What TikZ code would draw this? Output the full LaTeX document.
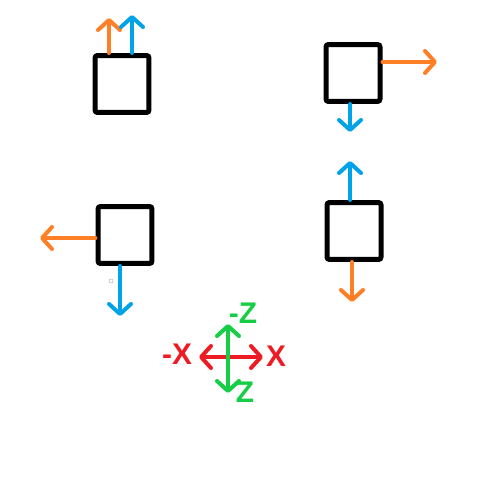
\documentclass[tikz,border=0pt]{standalone}
\usepackage{fontspec}
\setmainfont{Liberation Sans}
\usetikzlibrary{arrows.meta}
\definecolor{penorange}{RGB}{255,127,39}
\definecolor{penblue}{RGB}{0,162,232}
\definecolor{penred}{RGB}{237,28,36}
\definecolor{pengreen}{RGB}{22,205,70}
\begin{document}
\begin{tikzpicture}[
		x=0.02cm, y=-0.02cm,
		box/.style={
			draw,
			line width=0.1cm,
			rounded corners=0.5mm,
			minimum width=1.08cm,
			minimum height=1.14cm
		},
		pen/.style={
			line width=0.08cm,
			line cap=round,
			-{Straight Barb[length=2mm,width=4.4mm,round]}
		},
		label/.style={font=\bfseries\fontsize{17}{17}\selectfont}
	]
		\useasboundingbox (0,0) rectangle (500,500);
		
		\node[box] (B1) at (122,84) {};
		\node[box] (B2) at (353,73) {};
		\node[box] (B3) at (125,235) {};
		\node[box] (B4) at (354,231) {};
		
		\coordinate (B1o) at (109,18);
		\coordinate (B1b) at (132,15);
		\coordinate (B2o) at (437,62);
		\coordinate (B2b) at (350,132);
		\coordinate (B3o) at (40,238);
		\coordinate (B3b) at (120,316);
		\coordinate (B4b) at (350,161);
		\coordinate (B4o) at (352,302);
		
		\draw[pen, penorange] (B1.north -| B1o) -- (B1o);
		\draw[pen, penblue] (B1.north -| B1b) -- (B1b);
		\draw[pen, penorange] (B2.east |- B2o) -- (B2o);
		\draw[pen, penblue] (B2.south -| B2b) -- (B2b);
		\draw[pen, penorange] (B3.west |- B3o) -- (B3o);
		\draw[pen, penblue] (B3.south -| B3b) -- (B3b);
		\draw[pen, penblue] (B4.north -| B4b) -- (B4b);
		\draw[pen, penorange] (B4.south -| B4o) -- (B4o);
		
		\draw[gray!60, line width=0.3pt] (111,281) circle (2);
		
		% axes
		\coordinate (xl) at (199,357);
		\coordinate (xr) at (263,357);
		\coordinate (zt) at (228,324);
		\coordinate (zb) at (228,393);
		\draw[pen, penred, {Straight Barb[length=2mm,width=4.4mm,round]}-{Straight Barb[length=2mm,width=4.4mm,round]}] (xl) -- (xr);
		\draw[pen, pengreen, {Straight Barb[length=2mm,width=4.4mm,round]}-{Straight Barb[length=2mm,width=4.4mm,round]}] (zt) -- (zb);
		
		\node[label, penred] (mx) at (177,354) {-X};
		\node[label, penred] (px) at (276,356) {X};
		\node[label, pengreen] (mz) at (243,313) {-Z};
		\node[label, pengreen] (pz) at (245,392) {Z};
	\end{tikzpicture}
\end{document}
